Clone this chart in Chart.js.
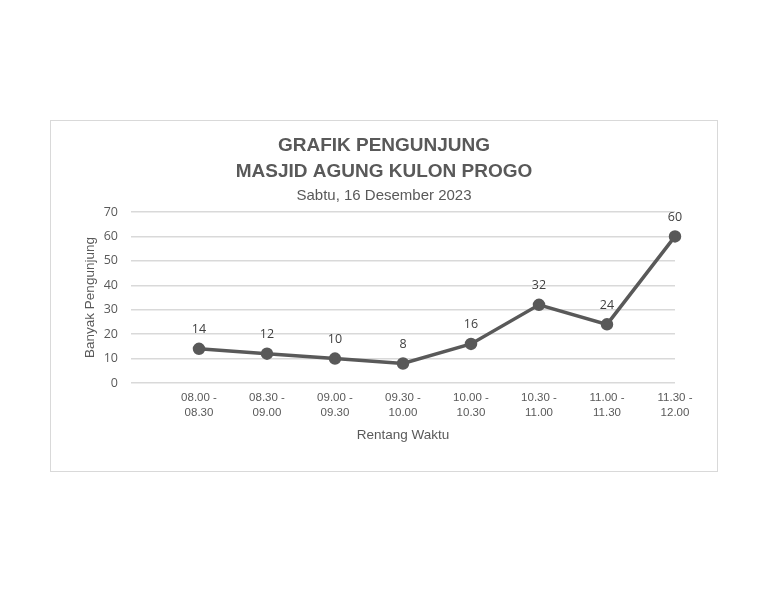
<!DOCTYPE html>
<html>
<head>
<meta charset="utf-8">
<script src="https://cdn.jsdelivr.net/npm/chart.js@4/dist/chart.umd.min.js"></script>
<style>
  html, body { margin: 0; padding: 0; background: #ffffff; }
  body { width: 768px; height: 594px; position: relative; overflow: hidden; }
  #frame { position: absolute; left: 50px; top: 120px; width: 666px; height: 350px; border: 1px solid #d9d9d9; }
  #frame canvas { display: block; }
</style>
</head>
<body>
<div id="frame"><canvas id="c" width="666" height="350"></canvas></div>
<script>
const titleLines = ['GRAFIK PENGUNJUNG', 'MASJID AGUNG KULON PROGO'];
const subtitleText = 'Sabtu, 16 Desember 2023';
const categories = ['08.00 - 08.30', '08.30 - 09.00', '09.00 - 09.30', '09.30 - 10.00', '10.00 - 10.30', '10.30 - 11.00', '11.00 - 11.30', '11.30 - 12.00'];
const visitors = [14, 12, 10, 8, 16, 32, 24, 60];
const yTicks = [0, 10, 20, 30, 40, 50, 60, 70];
const xTitle = 'Rentang Waktu';
const yTitle = 'Banyak Pengunjung';

const labels = [''].concat(categories);
const data = [null].concat(visitors);

const dataLabelPlugin = {
  id: 'dataLabels',
  afterDatasetsDraw(chart) {
    const ctx = chart.ctx;
    const meta = chart.getDatasetMeta(0);
    ctx.save();
    ctx.font = '12.5px "Open Sans", sans-serif';
    ctx.fillStyle = '#404040';
    ctx.textAlign = 'center';
    ctx.textBaseline = 'middle';
    meta.data.forEach((pt, i) => {
      const v = chart.data.datasets[0].data[i];
      if (v === null || v === undefined) return;
      ctx.fillText(String(v), pt.x, pt.y - 19);
    });
    ctx.restore();
  }
};

new Chart(document.getElementById('c'), {
  type: 'line',
  data: {
    labels: labels,
    datasets: [{
      data: data,
      yAxisID: 'y',
      borderColor: '#595959',
      backgroundColor: '#595959',
      borderWidth: 3.5,
      pointRadius: 4.5,
      pointHoverRadius: 4.5,
      pointBackgroundColor: '#595959',
      pointBorderColor: '#595959',
      tension: 0,
      spanGaps: false
    }]
  },
  options: {
    responsive: false,
    animation: false,
    devicePixelRatio: 1,
    layout: { padding: 0 },
    plugins: {
      legend: { display: false },
      tooltip: { enabled: false },
      title: {
        display: true,
        text: titleLines,
        color: '#595959',
        font: { family: '"Liberation Sans", Arial, sans-serif', size: 19, weight: 'bold', lineHeight: 26 / 19 },
        padding: { top: 12, bottom: 0 }
      },
      subtitle: {
        display: true,
        text: subtitleText,
        color: '#595959',
        font: { family: '"Liberation Sans", Arial, sans-serif', size: 15, weight: 'normal', lineHeight: 1.2 },
        padding: { top: 2, bottom: 7 }
      }
    },
    scales: {
      x: {
        type: 'category',
        offset: false,
        grid: { display: false, drawTicks: false },
        border: { display: false },
        ticks: {
          autoSkip: false,
          maxRotation: 0,
          minRotation: 0,
          padding: 7,
          color: '#595959',
          font: { family: '"Liberation Sans", Arial, sans-serif', size: 11.5, lineHeight: 15 / 11.5 },
          callback: function(value, index) {
            const s = this.getLabelForValue(value);
            if (!s) return '';
            const parts = s.split(' - ');
            return [parts[0] + ' -', parts[1]];
          }
        },
        title: {
          display: true,
          text: xTitle,
          color: '#595959',
          font: { family: '"Liberation Sans", Arial, sans-serif', size: 13.5, lineHeight: 1.2 },
          padding: { top: 0, bottom: 28 }
        },
        afterFit(scale) { scale.height = 88; }
      },
      y: {
        min: 0,
        max: 70,
        grid: { color: '#d9d9d9', lineWidth: 1.5, drawTicks: false },
        border: { display: false },
        afterBuildTicks(scale) { scale.ticks = yTicks.map(v => ({ value: v })); },
        ticks: {
          stepSize: 10,
          padding: 13,
          color: '#595959',
          font: { family: '"Open Sans", sans-serif', size: 12.5 }
        },
        title: {
          display: true,
          text: yTitle,
          color: '#595959',
          font: { family: '"Liberation Sans", Arial, sans-serif', size: 13.5, lineHeight: 1.2 },
          padding: { top: 31, bottom: 0 }
        },
        afterFit(scale) { scale.width = 80; }
      },
      rightSpace: {
        type: 'linear',
        position: 'right',
        display: true,
        min: 0,
        max: 70,
        grid: { display: false, drawTicks: false },
        border: { display: false },
        ticks: { display: false },
        afterFit(scale) { scale.width = 42; }
      }
    }
  },
  plugins: [dataLabelPlugin]
});
</script>
</body>
</html>
